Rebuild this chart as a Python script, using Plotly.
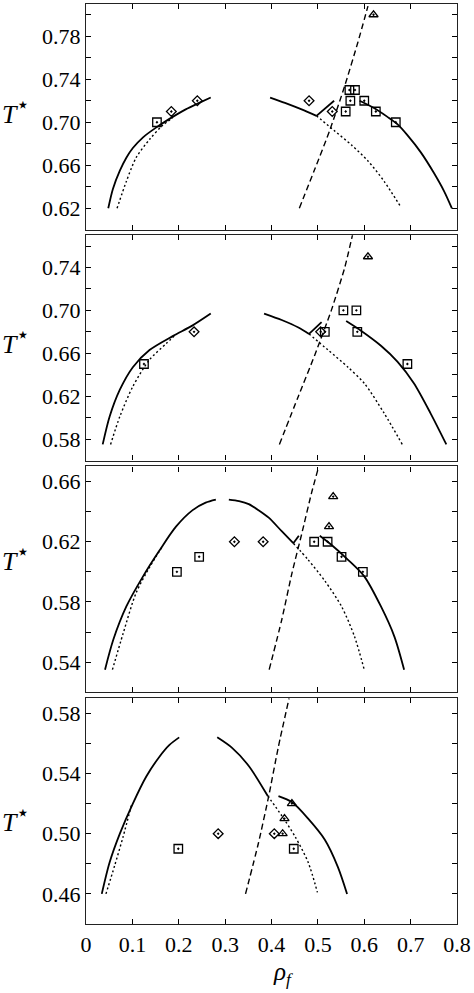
import plotly.graph_objects as go
from plotly.subplots import make_subplots

# ---------------- Panel 1 ----------------
p1_solid_a_x = [0.048, 0.058, 0.073, 0.087, 0.101, 0.123, 0.151, 0.187, 0.215, 0.244, 0.269]
p1_solid_a_T = [0.620, 0.638, 0.655, 0.667, 0.676, 0.686, 0.695, 0.705, 0.712, 0.718, 0.723]
p1_dot_a_x = [0.067, 0.087, 0.108, 0.137, 0.165, 0.187]
p1_dot_a_T = [0.620, 0.645, 0.667, 0.684, 0.697, 0.704]
p1_solid_b_x = [0.397, 0.429, 0.465, 0.497]
p1_solid_b_T = [0.723, 0.718, 0.712, 0.706]
p1_solid_b2_x = [0.497, 0.535]
p1_solid_b2_T = [0.706, 0.720]
p1_solid_c_x = [0.590, 0.622, 0.650, 0.672, 0.693, 0.722, 0.750, 0.772, 0.789]
p1_solid_c_T = [0.720, 0.713, 0.705, 0.698, 0.688, 0.672, 0.653, 0.636, 0.620]
p1_dot_b_x = [0.497, 0.536, 0.572, 0.608, 0.643, 0.679]
p1_dot_b_T = [0.706, 0.692, 0.679, 0.664, 0.645, 0.621]
p1_dash_x = [0.460, 0.493, 0.526, 0.558, 0.586, 0.608]
p1_dash_T = [0.620, 0.656, 0.693, 0.734, 0.774, 0.808]
p1_sq_x = [0.153, 0.560, 0.570, 0.568, 0.580, 0.600, 0.625, 0.668]
p1_sq_T = [0.70, 0.71, 0.72, 0.73, 0.73, 0.72, 0.71, 0.70]
p1_di_x = [0.184, 0.240, 0.481, 0.531]
p1_di_T = [0.71, 0.72, 0.72, 0.71]
p1_tri_x = [0.620]
p1_tri_T = [0.80]

# ---------------- Panel 2 ----------------
p2_solid_a_x = [0.036, 0.051, 0.073, 0.101, 0.137, 0.187, 0.230, 0.269]
p2_solid_a_T = [0.575, 0.601, 0.626, 0.647, 0.663, 0.676, 0.686, 0.697]
p2_dot_a_x = [0.053, 0.073, 0.101, 0.137, 0.173, 0.190]
p2_dot_a_T = [0.575, 0.601, 0.629, 0.654, 0.669, 0.676]
p2_solid_b_x = [0.384, 0.422, 0.458, 0.481]
p2_solid_b_T = [0.697, 0.691, 0.684, 0.678]
p2_solid_b2_x = [0.481, 0.508]
p2_solid_b2_T = [0.678, 0.689]
p2_solid_c_x = [0.561, 0.593, 0.636, 0.672, 0.707, 0.743, 0.777]
p2_solid_c_T = [0.690, 0.681, 0.667, 0.652, 0.632, 0.604, 0.575]
p2_dot_b_x = [0.481, 0.522, 0.565, 0.600, 0.643, 0.682]
p2_dot_b_T = [0.678, 0.663, 0.647, 0.632, 0.604, 0.575]
p2_dash_x = [0.417, 0.458, 0.493, 0.529, 0.558, 0.575]
p2_dash_T = [0.575, 0.620, 0.658, 0.700, 0.740, 0.771]
p2_sq_x = [0.125, 0.515, 0.555, 0.583, 0.585, 0.693]
p2_sq_T = [0.65, 0.68, 0.70, 0.70, 0.68, 0.65]
p2_di_x = [0.233, 0.506]
p2_di_T = [0.68, 0.68]
p2_tri_x = [0.608]
p2_tri_T = [0.75]

# ---------------- Panel 3 ----------------
p3_solid_a_x = [0.041, 0.059, 0.087, 0.123, 0.158, 0.194, 0.230, 0.258, 0.280]
p3_solid_a_T = [0.535, 0.555, 0.577, 0.597, 0.614, 0.630, 0.641, 0.646, 0.648]
p3_dot_a_x = [0.057, 0.080, 0.108, 0.137, 0.165]
p3_dot_a_T = [0.535, 0.559, 0.586, 0.603, 0.617]
p3_solid_b_x = [0.308, 0.330, 0.351, 0.372, 0.394, 0.422, 0.447]
p3_solid_b_T = [0.648, 0.647, 0.645, 0.641, 0.636, 0.627, 0.619]
p3_solid_b2_x = [0.447, 0.459]
p3_solid_b2_T = [0.619, 0.624]
p3_solid_c_x = [0.504, 0.529, 0.565, 0.600, 0.636, 0.665, 0.686]
p3_solid_c_T = [0.624, 0.618, 0.608, 0.597, 0.577, 0.557, 0.535]
p3_dot_b_x = [0.447, 0.479, 0.515, 0.551, 0.579, 0.600]
p3_dot_b_T = [0.619, 0.608, 0.594, 0.577, 0.557, 0.535]
p3_dash_x = [0.395, 0.422, 0.444, 0.465, 0.486, 0.501]
p3_dash_T = [0.535, 0.568, 0.599, 0.625, 0.652, 0.669]
p3_sq_x = [0.196, 0.244, 0.492, 0.521, 0.551, 0.597]
p3_sq_T = [0.60, 0.61, 0.62, 0.62, 0.61, 0.60]
p3_di_x = [0.320, 0.382]
p3_di_T = [0.62, 0.62]
p3_tri_x = [0.533, 0.524]
p3_tri_T = [0.65, 0.63]

# ---------------- Panel 4 ----------------
p4_solid_a_x = [0.034, 0.051, 0.073, 0.101, 0.130, 0.158, 0.180, 0.201]
p4_solid_a_T = [0.460, 0.481, 0.500, 0.520, 0.538, 0.551, 0.559, 0.564]
p4_dot_a_x = [0.043, 0.062, 0.080, 0.098]
p4_dot_a_T = [0.460, 0.479, 0.498, 0.519]
p4_solid_b_x = [0.283, 0.315, 0.351, 0.392]
p4_solid_b_T = [0.564, 0.557, 0.545, 0.525]
p4_dot_b_x = [0.392, 0.422, 0.451, 0.479, 0.499]
p4_dot_b_T = [0.525, 0.512, 0.498, 0.481, 0.461]
p4_solid_c_x = [0.415, 0.444, 0.479, 0.515, 0.543, 0.563]
p4_solid_c_T = [0.525, 0.521, 0.510, 0.496, 0.478, 0.460]
p4_dash_x = [0.344, 0.372, 0.394, 0.415, 0.438]
p4_dash_T = [0.460, 0.494, 0.525, 0.558, 0.590]
p4_sq_x = [0.199, 0.448]
p4_sq_T = [0.49, 0.49]
p4_di_x = [0.285, 0.406]
p4_di_T = [0.50, 0.50]
p4_tri_x = [0.444, 0.428, 0.424]
p4_tri_T = [0.52, 0.51, 0.50]

# axis settings
x_ticks = [0, 0.1, 0.2, 0.3, 0.4, 0.5, 0.6, 0.7, 0.8]
x_ticktext = ["0", "0.1", "0.2", "0.3", "0.4", "0.5", "0.6", "0.7", "0.8"]
y_ranges = [[0.60, 0.81], [0.56, 0.77], [0.52, 0.67], [0.44, 0.59]]
y_labels = [
    [0.62, 0.66, 0.70, 0.74, 0.78],
    [0.58, 0.62, 0.66, 0.70, 0.74],
    [0.54, 0.58, 0.62, 0.66],
    [0.46, 0.50, 0.54, 0.58],
]
y_domains = [[0.7546, 1.0], [0.5038, 0.7486], [0.2519, 0.4973], [0.0, 0.2454]]
tstar_y = [0.884, 0.634, 0.3985, 0.115]

FONT = "Liberation Serif"

panels = [
    dict(solid=[(p1_solid_a_x, p1_solid_a_T, "spline"), (p1_solid_b_x, p1_solid_b_T, "spline"),
                (p1_solid_b2_x, p1_solid_b2_T, "linear"), (p1_solid_c_x, p1_solid_c_T, "spline")],
         dot=[(p1_dot_a_x, p1_dot_a_T), (p1_dot_b_x, p1_dot_b_T)],
         dash=(p1_dash_x, p1_dash_T),
         sq=(p1_sq_x, p1_sq_T), di=(p1_di_x, p1_di_T), tri=(p1_tri_x, p1_tri_T)),
    dict(solid=[(p2_solid_a_x, p2_solid_a_T, "spline"), (p2_solid_b_x, p2_solid_b_T, "spline"),
                (p2_solid_b2_x, p2_solid_b2_T, "linear"), (p2_solid_c_x, p2_solid_c_T, "spline")],
         dot=[(p2_dot_a_x, p2_dot_a_T), (p2_dot_b_x, p2_dot_b_T)],
         dash=(p2_dash_x, p2_dash_T),
         sq=(p2_sq_x, p2_sq_T), di=(p2_di_x, p2_di_T), tri=(p2_tri_x, p2_tri_T)),
    dict(solid=[(p3_solid_a_x, p3_solid_a_T, "spline"), (p3_solid_b_x, p3_solid_b_T, "spline"),
                (p3_solid_b2_x, p3_solid_b2_T, "linear"), (p3_solid_c_x, p3_solid_c_T, "spline")],
         dot=[(p3_dot_a_x, p3_dot_a_T), (p3_dot_b_x, p3_dot_b_T)],
         dash=(p3_dash_x, p3_dash_T),
         sq=(p3_sq_x, p3_sq_T), di=(p3_di_x, p3_di_T), tri=(p3_tri_x, p3_tri_T)),
    dict(solid=[(p4_solid_a_x, p4_solid_a_T, "spline"), (p4_solid_b_x, p4_solid_b_T, "spline"),
                (p4_solid_c_x, p4_solid_c_T, "spline")],
         dot=[(p4_dot_a_x, p4_dot_a_T), (p4_dot_b_x, p4_dot_b_T)],
         dash=(p4_dash_x, p4_dash_T),
         sq=(p4_sq_x, p4_sq_T), di=(p4_di_x, p4_di_T), tri=(p4_tri_x, p4_tri_T)),
]

fig = make_subplots(rows=4, cols=1)

for i, p in enumerate(panels):
    row = i + 1
    for (xs, ys, shape) in p["solid"]:
        fig.add_trace(go.Scatter(x=xs, y=ys, mode="lines",
                                 line=dict(color="black", width=1.8, shape=shape, smoothing=0.8)),
                      row=row, col=1)
    for (xs, ys) in p["dot"]:
        fig.add_trace(go.Scatter(x=xs, y=ys, mode="lines",
                                 line=dict(color="black", width=1.4, dash="2px,2.5px", shape="spline", smoothing=0.8)),
                      row=row, col=1)
    xs, ys = p["dash"]
    fig.add_trace(go.Scatter(x=xs, y=ys, mode="lines",
                             line=dict(color="black", width=1.4, dash="6px,3.5px", shape="spline", smoothing=0.6)),
                  row=row, col=1)
    for key, sym, size in (("sq", "square-open-dot", 8.5), ("di", "diamond-open-dot", 7.5), ("tri", "triangle-up-open-dot", 8)):
        xs, ys = p[key]
        fig.add_trace(go.Scatter(x=xs, y=ys, mode="markers",
                                 marker=dict(symbol=sym, size=size, color="black",
                                             line=dict(color="black", width=1.3))),
                      row=row, col=1)

    xname = "xaxis" if row == 1 else f"xaxis{row}"
    yname = "yaxis" if row == 1 else f"yaxis{row}"
    fig.update_layout({
        xname: dict(range=[0, 0.8], tickmode="array", tickvals=x_ticks,
                    ticktext=x_ticktext, showticklabels=(row == 4),
                    ticks="inside", ticklen=5, tickwidth=1.2, tickcolor="black",
                    showline=True, mirror="ticks", linecolor="#222", linewidth=1.3,
                    showgrid=False, zeroline=False,
                    tickfont=dict(family=FONT, size=22, color="black")),
        yname: dict(range=y_ranges[i], domain=y_domains[i], tickmode="array",
                    tickvals=y_labels[i], ticktext=[f"{v:.2f}" for v in y_labels[i]],
                    ticks="inside", ticklen=5, tickwidth=1.2, tickcolor="black",
                    minor=dict(ticks="inside", dtick=0.02, tick0=0.0, ticklen=5,
                               tickwidth=1.2, tickcolor="black", showgrid=False),
                    showline=True, mirror="ticks", linecolor="#222", linewidth=1.3,
                    showgrid=False, zeroline=False,
                    tickfont=dict(family=FONT, size=22, color="black")),
    })
    fig.add_annotation(xref="paper", yref="paper", x=-0.232, y=tstar_y[i],
                       xanchor="left", yanchor="middle", showarrow=False,
                       text="<i>T</i><sup><span style='font-size:22px'>⋆</span></sup>",
                       font=dict(family=FONT, size=26, color="black"))

fig.add_annotation(xref="paper", yref="paper", x=0.53, y=-0.054,
                   xanchor="center", yanchor="middle", showarrow=False,
                   text="<i>ρ<sub>f</sub></i>",
                   font=dict(family=FONT, size=25, color="black"))

fig.update_layout(width=474, height=993, showlegend=False,
                  margin=dict(l=86, r=14, t=3, b=69),
                  plot_bgcolor="white", paper_bgcolor="white")

fig.write_html("out.html")
